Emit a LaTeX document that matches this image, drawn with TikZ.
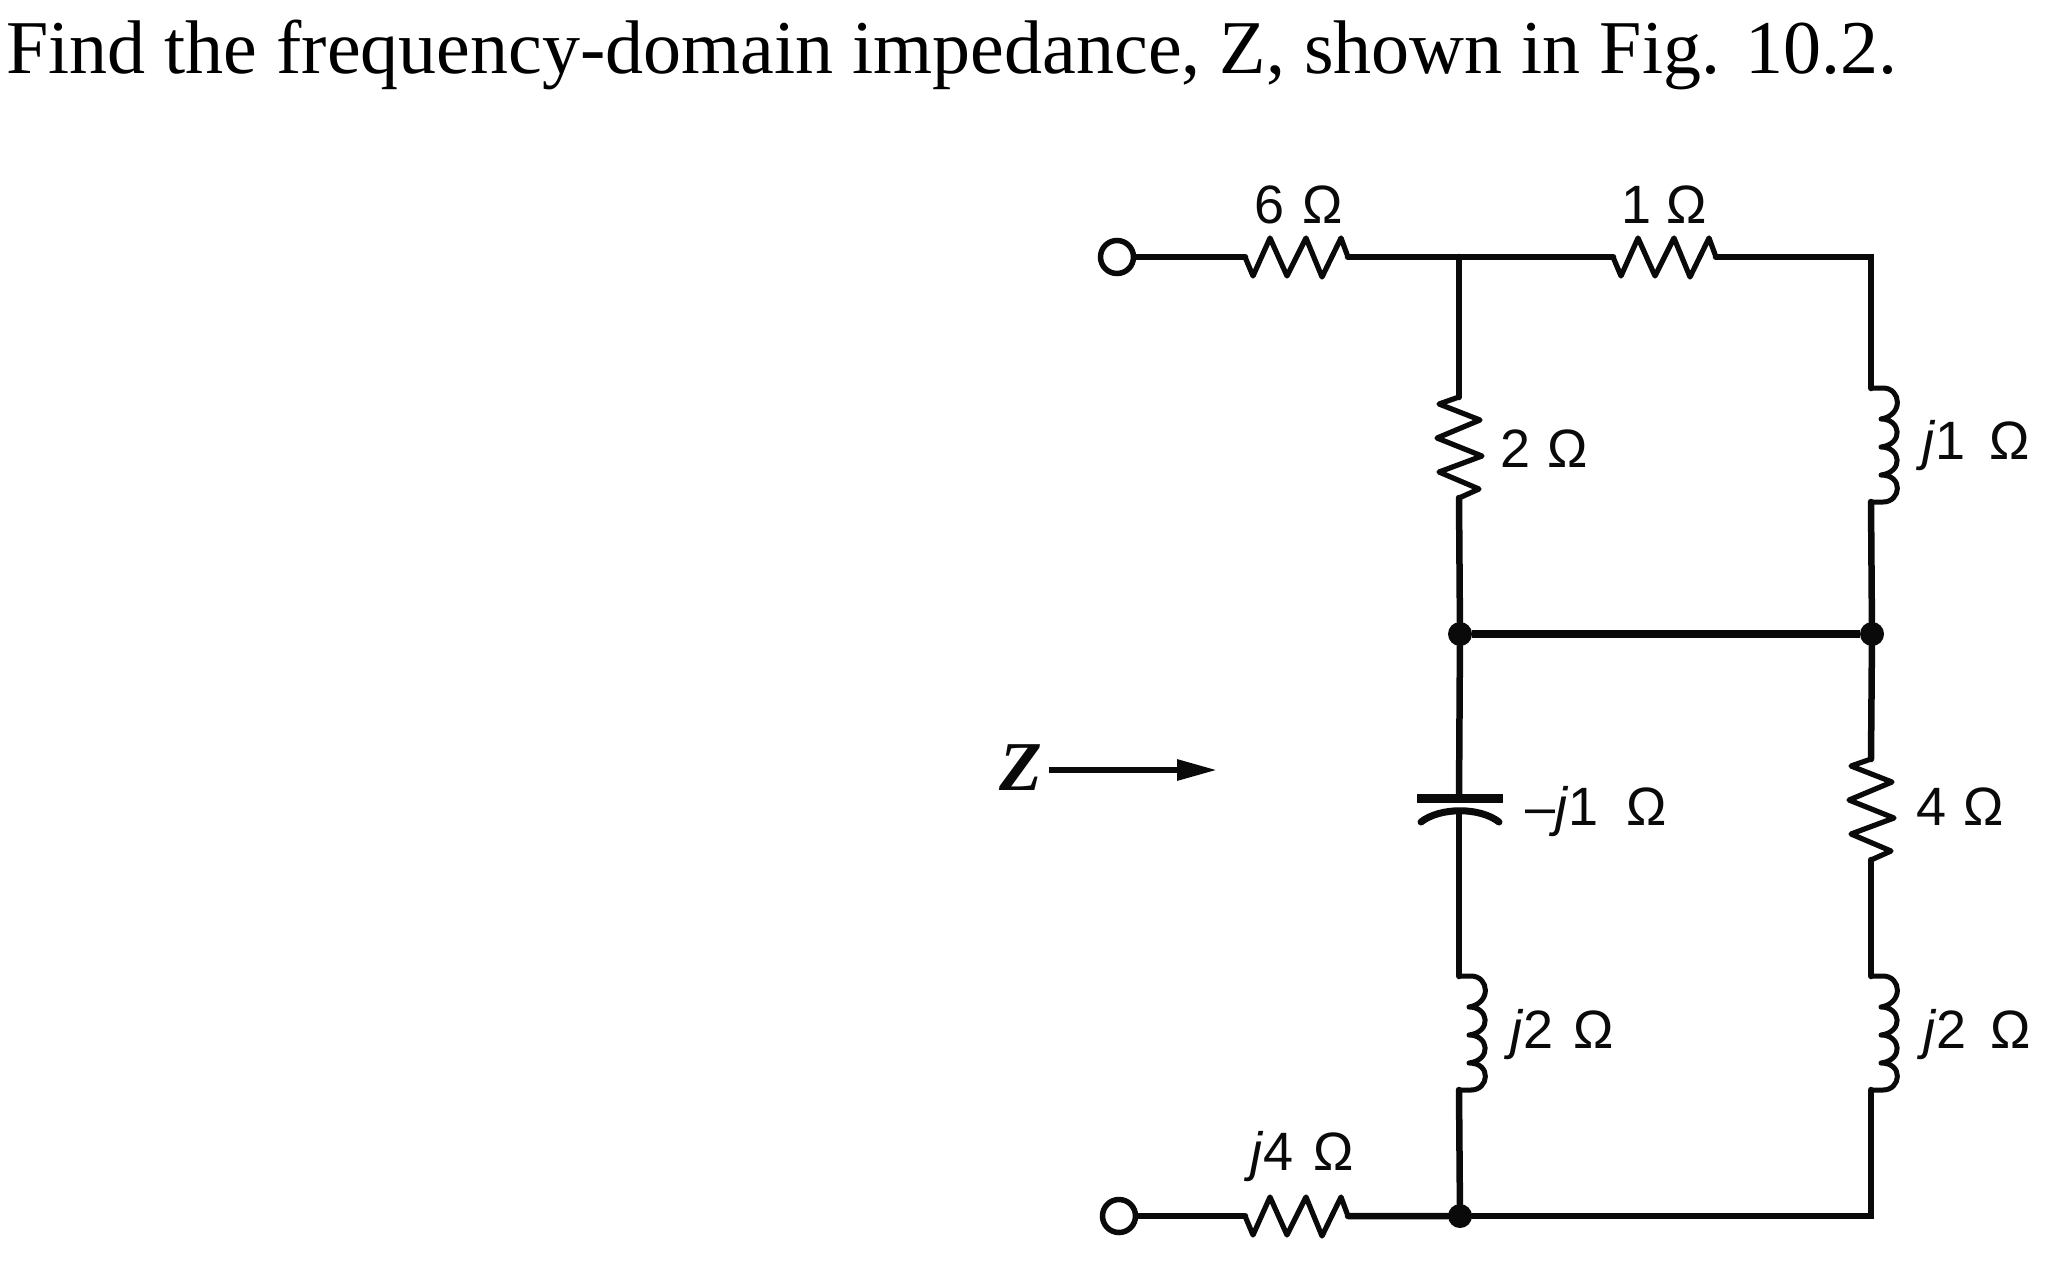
\documentclass[tikz,border=0pt]{standalone}
\usepackage{fontspec}
\setmainfont{Liberation Serif}
\newfontfamily\lblfont{Liberation Sans}
\usetikzlibrary{arrows.meta}
\definecolor{ink}{gray}{0.04}
\tikzset{
  wire/.style={draw=ink,line width=6.5pt,line cap=round,line join=miter},
  heavy/.style={draw=ink,line width=8pt},
  zig/.style={draw=ink,line width=5.2pt,line join=round,line cap=round},
  coilline/.style={draw=ink,line width=5pt,line join=round,line cap=round},
  junction/.style={circle,fill=ink,inner sep=0pt,minimum size=24pt},
  terminal/.style={circle,draw=ink,fill=white,line width=5.5pt,inner sep=0pt,minimum size=33pt},
  lbl/.style={anchor=base west,inner sep=0pt,text=ink,font=\lblfont\fontsize{54}{54}\selectfont},
  title/.style={anchor=base west,inner sep=0pt,text=black,font=\fontsize{76}{76}\selectfont}
}
\newcommand{\jj}{\textit{j}}
\newcommand{\gp}[1]{\hspace{#1pt}}
% resistor running left to right, from named start
\newcommand{\hres}[1]{\draw[zig,shift={(#1)}] (0,0) -- (8,19) -- (25,-19) -- (42,19) -- (61,-19) -- (77,20) -- (96,-19) -- (103,0);}
% resistor running downward
\newcommand{\vres}[1]{\draw[zig,shift={(#1)}] (0,0) -- (-20,7) -- (21,23) -- (-22,41) -- (23,59) -- (-20,75) -- (20,92) -- (0,101);}
% inductor running downward, bumps to the right
\newcommand{\coil}[1]{\draw[coilline,shift={(#1)}] (0,0) -- (12,0)
  .. controls (30,0) and (33,27) .. (10,31)
  .. controls (30,31) and (33,56) .. (10,59)
  .. controls (30,59) and (33,84) .. (10,87)
  .. controls (33,87) and (30,114) .. (12,114) -- (0,114);}
\begin{document}
\begin{tikzpicture}[x=1pt,y=-1pt]
\useasboundingbox (0,0) rectangle (2046,1270);
\fill[white] (0,0) rectangle (2046,1270);

\node[title] (ttl) at (6,73) {Find the frequency-domain impedance, Z, shown in Fig. 10.2.};

% junctions and terminals
\coordinate (tn) at (1459,257);
\coordinate (tr) at (1871,257);
\coordinate (br) at (1871,1216);
\node[junction] (ml) at (1460,634) {};
\node[junction] (mr) at (1872,634) {};
\node[junction] (bl) at (1460,1216) {};
\node[terminal] (t1) at (1117,257) {};
\node[terminal] (t2) at (1119,1216) {};

% component end points
\coordinate (r6a) at (1245,257);  \coordinate (r6b) at (1348,257);
\coordinate (r1a) at (1613,257);  \coordinate (r1b) at (1716,257);
\coordinate (r2a) at (1459,397);  \coordinate (r2b) at (1459,498);
\coordinate (l1a) at (1871,388);  \coordinate (l1b) at (1871,502);
\coordinate (c1a) at (1459,798);  \coordinate (c1b) at (1459,812);
\coordinate (l2a) at (1459,976);  \coordinate (l2b) at (1459,1090);
\coordinate (r4a) at (1871,759);  \coordinate (r4b) at (1871,860);
\coordinate (l3a) at (1871,976);  \coordinate (l3b) at (1871,1090);
\coordinate (r7a) at (1245,1216); \coordinate (r7b) at (1348,1216);

% wires
\draw[wire] (t1) -- (r6a);
\draw[wire] (r6b) -- (r1a);
\draw[wire] (r1b) -- (tr) -- (l1a);
\draw[wire] (l1b) -- (mr) -- (r4a);
\draw[wire] (r4b) -- (l3a);
\draw[wire] (l3b) -- (br) -- (bl);
\draw[wire] (tn) -- (r2a);
\draw[wire] (r2b) -- (ml) -- (c1a);
\draw[wire] (c1b) -- (l2a);
\draw[wire] (l2b) -- (bl) -- (r7b);
\draw[wire] (r7a) -- (t2);
\draw[heavy] (ml) -- (mr);

% components
\hres{r6a} \hres{r1a} \hres{r7a}
\vres{r2a} \vres{r4a}
\coil{l1a} \coil{l2a} \coil{l3a}

% capacitor
\draw[draw=ink,line width=9pt] (1417,798.5) -- (1503,798.5);
\draw[draw=ink,line width=7pt,line cap=round] (1421,822) .. controls (1440,807) and (1480,807) .. (1499,822);

% labels
\node[lbl] (lb6) at (1254,223) {6\gp{18}Ω};
\node[lbl] (lb1) at (1621,223) {1\gp{15}Ω};
\node[lbl] (lb2) at (1500,467) {2\gp{17}Ω};
\node[lbl] (lbj1) at (1922,459) {\jj1\gp{24}Ω};
\node[lbl] (lbc) at (1525,825) {–\jj1\gp{28}Ω};
\node[lbl] (lb4) at (1916,825) {4\gp{17}Ω};
\node[lbl] (lbj2a) at (1510,1048) {\jj2\gp{20}Ω};
\node[lbl] (lbj2b) at (1923,1048) {\jj2\gp{24}Ω};
\node[lbl] (lbj4) at (1250,1170) {\jj4\gp{20}Ω};

% Z arrow
\node[anchor=base west,inner sep=0pt,text=ink,font=\fontsize{70}{70}\selectfont\bfseries\itshape] (zl) at (999,790) {Z};
\coordinate (zend) at (1217,770);
\draw[draw=ink,line width=6pt,-{Triangle[length=40pt,width=20pt]}] (1049,770) -- (zend);
\end{tikzpicture}
\end{document}
